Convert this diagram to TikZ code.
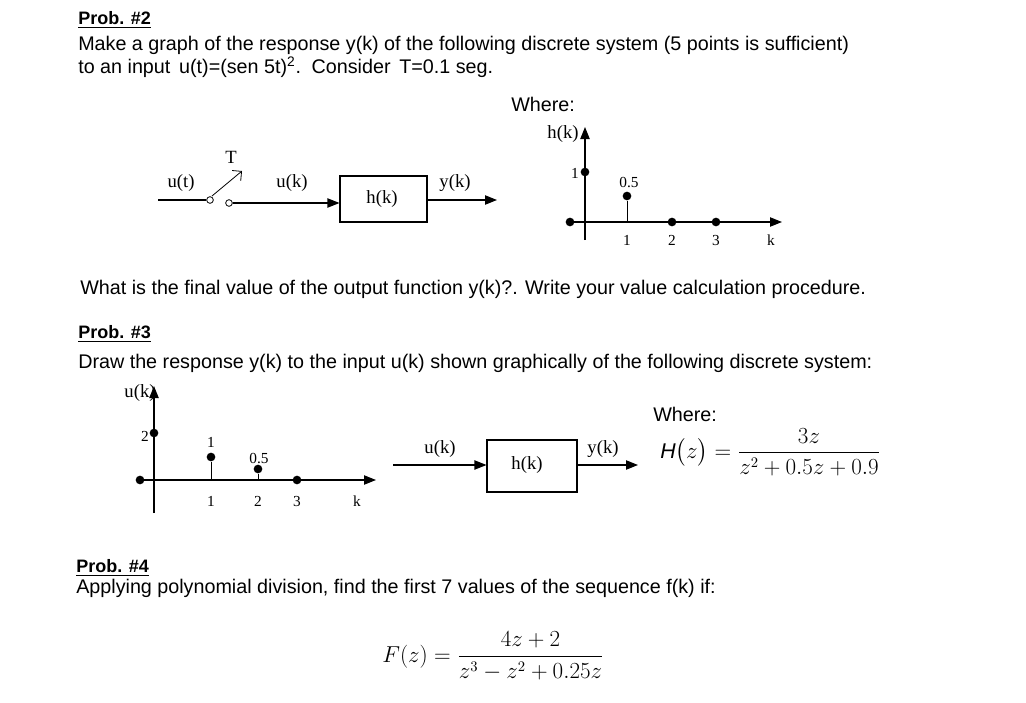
\documentclass[tikz,border=0pt]{standalone}
\usepackage{amsmath}
\usepackage{fontspec}
\setmainfont{Liberation Sans}
\newfontfamily\tnr{Liberation Serif}
\usetikzlibrary{arrows.meta}
\begin{document}
\begin{tikzpicture}[x=0.75pt,y=-0.75pt,
  txt/.style={anchor=west,inner sep=0pt,font=\fontsize{14.8}{17}\selectfont},
  lab/.style={inner sep=0pt,font=\tnr\fontsize{14}{16}\selectfont},
  sm/.style={inner sep=0pt,font=\tnr\fontsize{11.5}{13}\selectfont},
  ax/.style={line width=0.8pt,-{Triangle[length=9pt,width=7pt]}},
  dotp/.style={circle,fill,inner sep=0pt,minimum size=6.5pt},
  blk/.style={draw,line width=0.8pt,inner sep=0pt},
  sig/.style={line width=0.8pt,-{Triangle[length=9pt,width=7pt]}},
  hole/.style={circle,draw,fill=white,inner sep=0pt,minimum size=5pt,line width=0.6pt}]
\useasboundingbox (0,0) rectangle (1026,703);
% Prob 2
\node[txt,font=\bfseries\fontsize{13.5}{16}\selectfont] (p2) at (78,20) {\underline{Prob. \#2}};
\node[txt] (t1) at (78,45) {Make a graph of the response y(k) of the following discrete system (5 points is sufficient)};
\node[txt] (t2) at (78,67) {to an input\, u(t)=(sen 5t)\textsuperscript{2}. \,Consider\, T=0.1 seg.};
\node[txt] (w1) at (511,104) {Where:};
% block diagram 1
\coordinate (in1) at (158,200);
\node[hole] (c1) at (210,200) {};
\node[hole] (c2) at (229,203) {};
\draw[line width=0.8pt] (in1) -- (c1);
\coordinate (sw1) at (212,196);
\coordinate (sw2) at (242,171);
\draw[line width=0.6pt,-{Straight Barb[length=5pt]}] (sw1) -- (sw2);
\node[lab] (T) at (231,157) {T};
\node[blk,minimum width=87pt*0.75,minimum height=46pt*0.75] (b1) at (383.5,199) {};
\node[lab] (hk1) at (382,199) {h(k)};
\draw[sig] (c2) -- (c2 -| b1.west);
\coordinate (o1) at (497,200);
\draw[sig] (b1.east |- o1) -- (o1);
\node[lab] (ut) at (181,183) {u(t)};
\node[lab] (uk1) at (292,183) {u(k)};
\node[lab] (yk1) at (455,183) {y(k)};
% h(k) plot
\coordinate (ha0) at (585,240); \coordinate (ha1) at (585,127);
\draw[ax] (ha0) -- (ha1);
\coordinate (hx0) at (570,222); \coordinate (hx1) at (782,222);
\draw[ax] (hx0) -- (hx1);
\node[dotp] (hd0) at (570,222) {};
\node[dotp] (hd1) at (585,172) {};
\node[dotp] (hd2) at (627,196) {};
\node[dotp] (hd3) at (672,222) {};
\node[dotp] (hd4) at (716,222) {};
\draw[line width=0.6pt] (hd2) -- (627,222);
\node[lab] (hkl) at (563,134) {h(k)};
\node[sm] (h1) at (575,173) {1};
\node[sm] (h05) at (629,183) {0.5};
\node[sm] (hk1l) at (627,240) {1};
\node[sm] (hk2l) at (672,240) {2};
\node[sm] (hk3l) at (716,240) {3};
\node[sm] (hkk) at (771,240) {k};
\node[txt] (t3) at (80,289) {What is the final value of the output function y(k)?. Write your value calculation procedure.};
% Prob 3
\node[txt,font=\bfseries\fontsize{13.5}{16}\selectfont] (p3) at (78,334) {\underline{Prob. \#3}};
\node[txt] (t4) at (78,363) {Draw the response y(k) to the input u(k) shown graphically of the following discrete system:};
\coordinate (ua0) at (154,513); \coordinate (ua1) at (154,386);
\draw[ax] (ua0) -- (ua1);
\coordinate (ux0) at (140,480); \coordinate (ux1) at (376,480);
\draw[ax] (ux0) -- (ux1);
\node[dotp] (ud0) at (140,480) {};
\node[dotp] (ud1) at (154,433) {};
\node[dotp] (ud2) at (211,457) {};
\node[dotp] (ud3) at (258,469) {};
\node[dotp] (ud4) at (297,480) {};
\draw[line width=0.6pt] (ud2) -- (211,480);
\draw[line width=0.6pt] (ud3) -- (258,480);
\node[lab] (ukl) at (140,393) {u(k)};
\node[sm] (u2) at (145,436) {2};
\node[sm] (u1) at (211,442) {1};
\node[sm] (u05) at (259,459) {0.5};
\node[sm] (uk1l) at (211,501) {1};
\node[sm] (uk2l) at (258,501) {2};
\node[sm] (uk3l) at (297,501) {3};
\node[sm] (ukk) at (357,501) {k};
% block 2
\node[blk,minimum width=90pt*0.75,minimum height=52pt*0.75] (b2) at (532,466) {};
\node[lab] (hk2) at (527,465) {h(k)};
\coordinate (i2) at (393,465);
\draw[sig] (i2) -- (i2 -| b2.west);
\coordinate (o2) at (638,465);
\draw[sig] (b2.east |- o2) -- (o2);
\node[lab] (uk2) at (440,449) {u(k)};
\node[lab] (yk2) at (603,449) {y(k)};
\node[txt] (w2) at (653,414) {Where:};
\node[anchor=west,inner sep=0pt,font=\tnr\fontsize{16}{18}\selectfont] (Hz) at (660,452)
  {$\mathit{H}\big(z\big)=\dfrac{3z}{z^{2}+0.5z+0.9}$};
% Prob 4
\node[txt,font=\bfseries\fontsize{13.5}{16}\selectfont] (p4) at (76,568) {\underline{Prob. \#4}};
\node[txt] (t5) at (76,588) {Applying polynomial division, find the first 7 values of the sequence f(k) if:};
\node[anchor=west,inner sep=0pt,font=\fontsize{16}{18}\selectfont] (Fz) at (382,656)
  {$F(z)=\dfrac{4z+2}{z^{3}-z^{2}+0.25z}$};
\end{tikzpicture}
\end{document}
